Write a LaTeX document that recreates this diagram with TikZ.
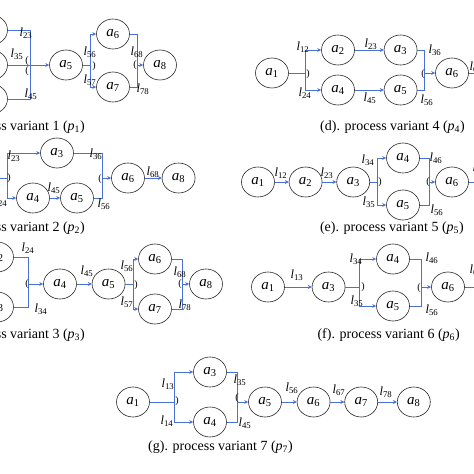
\documentclass[tikz,border=0pt]{standalone}
\usepackage{fontspec}
\setmainfont{Liberation Serif}
\usetikzlibrary{arrows.meta,positioning,shapes.geometric}
\definecolor{flowblue}{RGB}{72,112,214}
\newcommand{\act}[1]{\textit{a}\textsubscript{#1}}
\newcommand{\lnk}[1]{\textit{l}\textsubscript{#1}}
\newcommand{\pv}[1]{(\textit{p}\textsubscript{#1})}
\tikzset{
  act/.style={ellipse, draw=black!85, line width=0.6pt, minimum width=33pt, minimum height=30pt, inner sep=0pt, font=\fontsize{15}{17}\selectfont},
  flow/.style={draw=flowblue, line width=0.9pt},
  arrow/.style={flow, -{Stealth[length=4pt,width=4pt]}},
  lbl/.style={inner sep=0pt, font=\fontsize{12.5}{14}\selectfont},
  gate/.style={inner sep=0pt, font=\fontsize{10}{12}\selectfont},
  captext/.style={inner sep=0pt, anchor=east, font=\fontsize{14}{16}\selectfont},
}

\begin{document}
\begin{tikzpicture}[x=1pt, y=-1pt, node distance=15pt]
  \useasboundingbox (0,0) rectangle (474,474);
  \clip (0,0) rectangle (474,474);

  % (a)
  \node[act] (at) at (-9,30) {};
  \node[act] (am) at (-9,65) {};
  \node[act] (ab) at (-9,99) {};
  \coordinate (a-in) at (30,65);
  \node[act] (a5) at (66,65) {\act{5}};
  \coordinate (a-out) at (90,65);
  \node[act] (a6) at (113,34) {\act{6}};
  \node[act] (a7) at (113,87) {\act{7}};
  \coordinate (a-join) at (137,65);
  \node[act] (a8) at (160,65) {\act{8}};
  \draw[flow] (at) -| (a-in);
  \draw[flow] (ab) -| (a-in);
  \draw[flow] (am) -- (a-in);
  \draw[arrow] (a-in) -- (a5);
  \draw[flow] (a5) -- (a-out);
  \draw[arrow] (a-out) |- (a6);
  \draw[arrow] (a-out) |- (a7);
  \draw[flow] (a6) -| (a-join);
  \draw[flow] (a7) -| (a-join);
  \draw[arrow] (a-join) -- (a8);
  \node[lbl] (a-l23) at (26,33) {\lnk{23}};
  \node[lbl] (a-l35) at (17,54) {\lnk{35}};
  \node[lbl] (a-l45) at (31,94) {\lnk{45}};
  \node[gate] (a-g1) at (27,61) {(};
  \node[gate] (a-g2) at (27,71) {(};
  \node[lbl] (a-l56) at (90,52) {\lnk{56}};
  \node[gate] (a-g3) at (94,66) {)};
  \node[lbl] (a-l57) at (90,80) {\lnk{57}};
  \node[lbl] (a-l68) at (137,52) {\lnk{68}};
  \node[gate] (a-g4) at (135,65) {(};
  \node[lbl] (a-l78) at (143,89) {\lnk{78}};
  \node[captext] (a-cap) at (85,127) {(a). process variant 1 \pv{1}};

  % (b)
  \coordinate (b-src) at (-30,178);
  \coordinate (b-out) at (7,178);
  \node[act] (b3) at (57,153) {\act{3}};
  \node[act] (b4) at (33,198) {\act{4}};
  \node[act] (b5) at (77,198) {\act{5}};
  \coordinate (b-join) at (102,178);
  \node[act] (b6) at (128,178) {\act{6}};
  \node[act, right=17pt of b6] (b8) {\act{8}};
  \draw[flow] (b-src) -- (b-out);
  \draw[arrow] (b-out) |- (b3);
  \draw[arrow] (b-out) |- (b4);
  \draw[arrow] (b4) -- (b5);
  \draw[flow] (b3) -| (b-join);
  \draw[flow] (b5) -| (b-join);
  \draw[arrow] (b-join) -- (b6);
  \draw[arrow] (b6) -- (b8);
  \node[lbl] (b-l23) at (14,156) {\lnk{23}};
  \node[lbl] (b-l24) at (1,201) {\lnk{24}};
  \node[gate] (b-g1) at (9,178) {)};
  \node[lbl] (b-l45) at (54,188) {\lnk{45}};
  \node[lbl] (b-l36) at (96,154) {\lnk{36}};
  \node[gate] (b-g2) at (100,179) {(};
  \node[lbl] (b-l56) at (104,204) {\lnk{56}};
  \node[lbl] (b-l68) at (153,172) {\lnk{68}};
  \node[captext] (b-cap) at (85,228) {(b). process variant 2 \pv{2}};

  % (c)
  \node[act] (c2) at (-3,257) {\act{2}};
  \node[act] (c3) at (-3,307) {\act{3}};
  \coordinate (c-join) at (28,284);
  \node[act] (c4) at (60,284) {\act{4}};
  \node[act, right=15pt of c4] (c5) {\act{5}};
  \coordinate (c-out) at (133,284);
  \node[act] (c6) at (155,259) {\act{6}};
  \node[act] (c7) at (155,309) {\act{7}};
  \coordinate (c-join2) at (182,284);
  \node[act] (c8) at (206,284) {\act{8}};
  \draw[flow] (c2) -| (c-join);
  \draw[flow] (c3) -| (c-join);
  \draw[arrow] (c-join) -- (c4);
  \draw[arrow] (c4) -- (c5);
  \draw[flow] (c5) -- (c-out);
  \draw[arrow] (c-out) |- (c6);
  \draw[arrow] (c-out) |- (c7);
  \draw[flow] (c6) -| (c-join2);
  \draw[flow] (c7) -| (c-join2);
  \draw[arrow] (c-join2) -- (c8);
  \node[lbl] (c-l24) at (28,248) {\lnk{24}};
  \node[gate] (c-g1) at (27,284) {(};
  \node[lbl] (c-l34) at (41,309) {\lnk{34}};
  \node[lbl] (c-l45) at (87,271) {\lnk{45}};
  \node[lbl] (c-l56) at (127,266) {\lnk{56}};
  \node[gate] (c-g2) at (136,285) {)};
  \node[lbl] (c-l57) at (127,302) {\lnk{57}};
  \node[lbl] (c-l68) at (180,272) {\lnk{68}};
  \node[gate] (c-g3) at (180,284) {(};
  \node[lbl] (c-l78) at (185,305) {\lnk{78}};
  \node[captext] (c-cap) at (85,335) {(c). process variant 3 \pv{3}};

  % (d)
  \node[act] (d1) at (272,73) {\act{1}};
  \coordinate (d-out) at (305,73);
  \node[act] (d2) at (338,50) {\act{2}};
  \node[act, right=29pt of d2] (d3) {\act{3}};
  \node[act] (d4) at (338,90) {\act{4}};
  \node[act, right=29pt of d4] (d5) {\act{5}};
  \coordinate (d-join) at (424,73);
  \node[act] (d6) at (452,73) {\act{6}};
  \coordinate (d-next) at (505,73);
  \draw[flow] (d1) -- (d-out);
  \draw[arrow] (d-out) |- (d2);
  \draw[arrow] (d-out) |- (d4);
  \draw[arrow] (d2) -- (d3);
  \draw[arrow] (d4) -- (d5);
  \draw[flow] (d3) -| (d-join);
  \draw[flow] (d5) -| (d-join);
  \draw[arrow] (d-join) -- (d6);
  \draw[arrow] (d6) -- (d-next);
  \node[lbl] (d-l12) at (303,47) {\lnk{12}};
  \node[gate] (d-g1) at (308,74) {)};
  \node[lbl] (d-l24) at (305,93) {\lnk{24}};
  \node[lbl] (d-l23) at (371,44) {\lnk{23}};
  \node[lbl] (d-l45) at (370,98) {\lnk{45}};
  \node[lbl] (d-l36) at (435,50) {\lnk{36}};
  \node[gate] (d-g2) at (423,74) {(};
  \node[lbl] (d-l56) at (427,100) {\lnk{56}};
  \node[lbl] (d-l68) at (476,67) {\lnk{68}};
  \node[captext] (d-cap) at (465,127) {(d). process variant 4 \pv{4}};

  % (e)
  \node[act] (e1) at (258,182) {\act{1}};
  \node[act, right=14pt of e1] (e2) {\act{2}};
  \node[act, right=14pt of e2] (e3) {\act{3}};
  \coordinate (e-out) at (377,182);
  \node[act] (e4) at (403,158) {\act{4}};
  \node[act] (e5) at (403,205) {\act{5}};
  \coordinate (e-join) at (429,182);
  \node[act] (e6) at (452,182) {\act{6}};
  \coordinate (e-next) at (505,182);
  \draw[arrow] (e1) -- (e2);
  \draw[arrow] (e2) -- (e3);
  \draw[flow] (e3) -- (e-out);
  \draw[arrow] (e-out) |- (e4);
  \draw[arrow] (e-out) |- (e5);
  \draw[flow] (e4) -| (e-join);
  \draw[flow] (e5) -| (e-join);
  \draw[arrow] (e-join) -- (e6);
  \draw[arrow] (e6) -- (e-next);
  \node[lbl] (e-l12) at (281,173) {\lnk{12}};
  \node[lbl] (e-l23) at (327,173) {\lnk{23}};
  \node[lbl] (e-l34) at (368,160) {\lnk{34}};
  \node[gate] (e-g1) at (380,182) {)};
  \node[lbl] (e-l35) at (369,202) {\lnk{35}};
  \node[lbl] (e-l46) at (436,158) {\lnk{46}};
  \node[gate] (e-g2) at (428,182) {(};
  \node[lbl] (e-l56) at (437,210) {\lnk{56}};
  \node[lbl] (e-l68) at (479,168) {\lnk{68}};
  \node[captext] (e-cap) at (464,228) {(e). process variant 5 \pv{5}};

  % (f)
  \node[act] (f1) at (268,287) {\act{1}};
  \node[act, right=27pt of f1] (f3) {\act{3}};
  \coordinate (f-out) at (359,287);
  \node[act] (f4) at (393,259) {\act{4}};
  \node[act] (f5) at (393,306) {\act{5}};
  \coordinate (f-join) at (421,287);
  \node[act] (f6) at (448,287) {\act{6}};
  \coordinate (f-next) at (505,287);
  \draw[arrow] (f1) -- (f3);
  \draw[flow] (f3) -- (f-out);
  \draw[arrow] (f-out) |- (f4);
  \draw[arrow] (f-out) |- (f5);
  \draw[flow] (f4) -| (f-join);
  \draw[flow] (f5) -| (f-join);
  \draw[arrow] (f-join) -- (f6);
  \draw[arrow] (f6) -- (f-next);
  \node[lbl] (f-l13) at (297,275) {\lnk{13}};
  \node[lbl] (f-l34) at (356,259) {\lnk{34}};
  \node[gate] (f-g1) at (363,287) {)};
  \node[lbl] (f-l35) at (357,301) {\lnk{35}};
  \node[lbl] (f-l46) at (432,258) {\lnk{46}};
  \node[gate] (f-g2) at (419,288) {(};
  \node[lbl] (f-l56) at (432,310) {\lnk{56}};
  \node[lbl] (f-l68) at (476,270) {\lnk{68}};
  \node[captext] (f-cap) at (460,335) {(f). process variant 6 \pv{6}};

  % (g)
  \node[act] (g1) at (133,402) {\act{1}};
  \coordinate (g-out) at (174,402);
  \node[act] (g3) at (210,372) {\act{3}};
  \node[act] (g4) at (210,422) {\act{4}};
  \coordinate (g-join) at (237,402);
  \node[act] (g5) at (265,402) {\act{5}};
  \node[act, right=15pt of g5] (g6) {\act{6}};
  \node[act, right=14pt of g6] (g7) {\act{7}};
  \node[act, right=19pt of g7] (g8) {\act{8}};
  \draw[flow] (g1) -- (g-out);
  \draw[arrow] (g-out) |- (g3);
  \draw[arrow] (g-out) |- (g4);
  \draw[flow] (g3) -| (g-join);
  \draw[flow] (g4) -| (g-join);
  \draw[arrow] (g-join) -- (g5);
  \draw[arrow] (g5) -- (g6);
  \draw[arrow] (g6) -- (g7);
  \draw[arrow] (g7) -- (g8);
  \node[lbl] (g-l13) at (168,384) {\lnk{13}};
  \node[gate] (g-g1) at (177,401) {)};
  \node[lbl] (g-l14) at (167,421) {\lnk{14}};
  \node[lbl] (g-l35) at (240,380) {\lnk{35}};
  \node[gate] (g-g2) at (237,398) {(};
  \node[lbl] (g-l45) at (245,423) {\lnk{45}};
  \node[lbl] (g-l56) at (292,388) {\lnk{56}};
  \node[lbl] (g-l67) at (339,390) {\lnk{67}};
  \node[lbl] (g-l78) at (386,392) {\lnk{78}};
  \node[captext] (g-cap) at (293,447) {(g). process variant 7 \pv{7}};
\end{tikzpicture}
\end{document}
